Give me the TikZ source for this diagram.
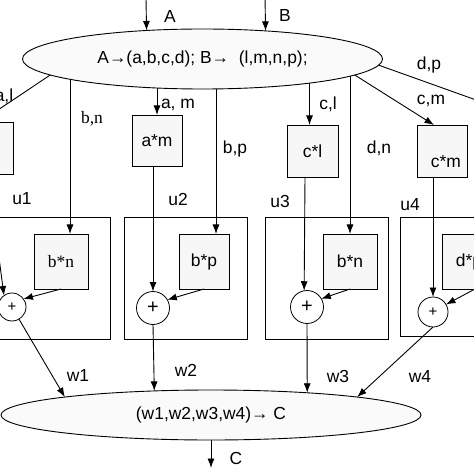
\documentclass[tikz,border=0pt]{standalone}
\usepackage{fontspec}
\setmainfont{Liberation Sans}
\newfontfamily\serifb{Liberation Serif}
\usetikzlibrary{shapes.geometric,arrows.meta,calc}
\pgfdeclarelayer{bg}
\pgfsetlayers{bg,main}
\begin{document}
\begin{tikzpicture}[x=1bp,y=-1bp,
  every node/.style={font=\fontsize{17.5}{19}\selectfont, inner sep=0pt, outer sep=0pt},
  ln/.style={line width=0.9bp, draw=black},
  arr/.style={ln, -{Latex[length=9.5bp,width=7bp]}},
  mbox/.style={draw, line width=0.8bp, fill=gray!6, minimum width=50bp, minimum height=52bp},
  ubox/.style={draw, line width=0.8bp, minimum width=123bp, minimum height=122bp},
  plus/.style={draw, circle, line width=0.8bp, fill=white, minimum size=32bp},
  oval/.style={draw, ellipse, line width=0.9bp, fill=gray!4}]
\useasboundingbox (0,0) rectangle (474,474);
\clip (0,0) rectangle (474,474);

% ellipses
\node[oval, minimum width=360bp, minimum height=60bp] (top) at (202.5,59) {A→(a,b,c,d); B→\ \ (l,m,n,p);};
\node[oval, minimum width=420bp, minimum height=50bp] (bot) at (211,415) {(w1,w2,w3,w4)→ C};

% unit boxes
\node[ubox] (u1) at (48.5,278) {};
\node[ubox] (u2) at (185.5,278) {};
\node[ubox] (u3) at (327,278) {};
\node[ubox, minimum height=119bp] (u4) at (461.5,276.5) {};
\node (u1l) at (22,199) {u1};
\node (u2l) at (178,199) {u2};
\node (u3l) at (280,201) {u3};
\node (u4l) at (410,205) {u4};

% product boxes
\node[mbox] (al) at (-12,148) {};
\node[mbox, minimum height=51bp] (am) at (157,140.5) {a*m};
\node[mbox, minimum width=51bp] (cl) at (312.5,151) {c*l};
\node[mbox] (cm) at (442,151) {};
\node (cmt) at (446,162) {c*m};
\node[mbox, minimum width=54bp, minimum height=55bp] (bn1) at (61,261.5) {\serifb b*n};
\node[mbox, minimum height=55bp] (bp) at (204,261.5) {b*p};
\node[mbox, minimum width=54bp, minimum height=55bp] (bn3) at (350,261.5) {b*n};
\node[mbox, minimum width=54bp, minimum height=55bp] (dp) at (469,261.5) {d*p};

% adders
\node[plus, minimum size=28bp, font=\fontsize{15}{16}\selectfont] (p1) at (12,307) {+};
\node[plus, minimum size=33bp, font=\fontsize{20}{21}\selectfont] (p2) at (153,308) {+};
\node[plus, minimum size=33bp, font=\fontsize{20}{21}\selectfont] (p3) at (307,307) {+};
\node[plus, minimum size=30bp, font=\fontsize{15}{16}\selectfont] (p4) at (433,312) {+};

% free ends
\coordinate (ain) at (146,-2);
\coordinate (bin) at (265,-2);
\coordinate (cout) at (211,468);
\coordinate (dpend) at (560,130);
\coordinate (bnin) at ($(bn1.north)+(9,0)$);
\coordinate (bpin) at ($(bp.north)+(12,0)$);
\coordinate (clin) at ($(cl.north)+(-3,0)$);

% inputs
\draw[arr] (ain) -- (top.153.2);
\draw[arr] (bin) -- (top.24.4);
\node (la) at (170,17) {A};
\node (lb) at (285,16) {B};

% lines from the top ellipse (behind it)
\begin{pgfonlayer}{bg}
\draw[arr] (bnin |- top.center) -- (bnin);
\draw[arr] (am.north |- top.center) -- (am.north);
\draw[arr] (bpin |- top.center) -- (bpin);
\draw[arr] (clin |- top.center) -- (clin);
\draw[arr] (bn3.north |- top.center) -- (bn3.north);
\end{pgfonlayer}
\draw[arr] (top.186.4) -- ($(al.north)+(-8,0)$);
\draw[arr] (top.-6) -- ($(cm.north)+(-8,0)$);
\draw[ln] (top.-2.2) -- (dpend);

% branch labels
\node (lal) at (4,96) {a,l};
\node (lbn) at (92,119) {\serifb b,n};
\node (lam) at (178,105) {a, m};
\node (lbp) at (235,149) {b,p};
\node (lcl) at (328,104) {c,l};
\node (ldn) at (379,148) {d,n};
\node (lcm) at (431,101) {c,m};
\node (ldp) at (429,65) {d,p};

% inside the units
\draw[arr] (al.south) -- (p1.125);
\draw[arr] (bn1.south) -- (p1.35);
\draw[arr] (p2.north |- am.south) -- (p2.north);
\draw[arr] (bp.south) -- (p2.30);
\draw[arr] ($(cl.south)+(-7.5,0)$) -- (p3.100);
\draw[arr] (bn3.south) -- (p3.30);
\draw[arr] (p4.north |- cm.south) -- (p4.north);
\draw[arr] ($(dp.south)+(6,0)$) -- (p4.30);

% outputs
\draw[arr] (p1.-60) -- (bot.173);
\draw[arr] (p2.south) -- (bot.157.5);
\draw[arr] (p3.south) -- (bot.13.4);
\draw[arr] (p4.south) -- (bot.7);
\draw[arr] (bot.south) -- (cout);
\node (lw1) at (78,375) {w1};
\node (lw2) at (186,370) {w2};
\node (lw3) at (338,376) {w3};
\node (lw4) at (420,376) {w4};
\node (lc) at (236,458) {C};
\end{tikzpicture}
\end{document}
